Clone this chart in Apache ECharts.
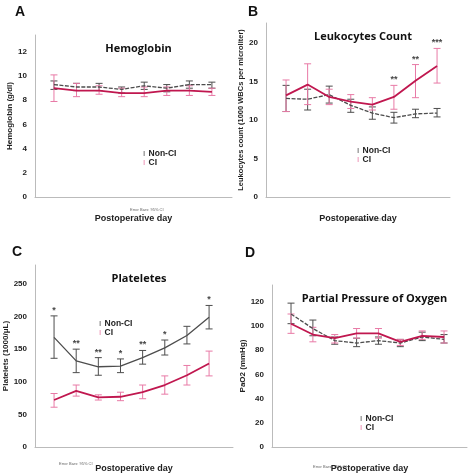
<!DOCTYPE html>
<html><head><meta charset="utf-8">
<script src="https://cdn.jsdelivr.net/npm/echarts@6/dist/echarts.min.js"></script>
<style>html,body{margin:0;background:#fff}#c{width:474px;height:474px}</style>
</head><body><div id="c"></div>
<script>
var days = [0, 1, 2, 3, 4, 5, 6, 7]
// Hemoglobin
var hbNon = [9.3, 9.1, 9.1, 8.9, 9.2, 9.0, 9.3, 9.3]
var hbNonLo = [8.9, 8.8, 8.8, 8.6, 8.9, 8.7, 9.0, 9.0]
var hbNonHi = [9.6, 9.4, 9.4, 9.1, 9.5, 9.3, 9.6, 9.5]
var hbCi = [9.0, 8.8, 8.8, 8.6, 8.6, 8.8, 8.8, 8.7]
var hbCiLo = [7.9, 8.3, 8.5, 8.3, 8.3, 8.4, 8.4, 8.4]
var hbCiHi = [10.1, 9.4, 9.2, 9.0, 9.1, 9.1, 9.2, 9.0]
// Leukocytes
var wbcNon = [12.8, 12.7, 13.3, 11.9, 10.9, 10.3, 10.8, 10.9]
var wbcNonLo = [11.1, 11.3, 12.2, 11.0, 10.1, 9.6, 10.3, 10.4]
var wbcNonHi = [14.5, 14.0, 14.4, 12.7, 11.7, 11.0, 11.4, 11.5]
var wbcCi = [13.2, 14.6, 13.0, 12.4, 12.0, 13.0, 15.1, 17.0]
var wbcCiLo = [11.1, 12.0, 12.0, 11.5, 11.3, 11.4, 12.9, 14.8]
var wbcCiHi = [15.2, 17.3, 14.0, 13.3, 12.9, 14.5, 17.2, 19.3]
var wbcStars = ['', '', '', '', '', '**', '**', '***']
// Platelets
var pltNon = [168, 132, 123, 124, 137, 152, 171, 199]
var pltNonLo = [136, 114, 110, 114, 127, 141, 158, 181]
var pltNonHi = [201, 150, 137, 135, 148, 164, 185, 217]
var pltCi = [72, 86, 76, 77, 84, 95, 110, 128]
var pltCiLo = [61, 78, 72, 71, 74, 81, 95, 109]
var pltCiHi = [82, 95, 80, 84, 95, 109, 125, 147]
var pltStars = ['*', '**', '**', '*', '**', '*', '', '*']
// PaO2
var poNon = [110, 98, 88, 86, 88, 86, 91, 89]
var poNonLo = [102, 92, 85, 83, 85, 83, 88, 86]
var poNonHi = [119, 105, 91, 90, 91, 89, 95, 93]
var poCi = [102, 93, 90, 94, 94, 87, 92, 91]
var poCiLo = [94, 87, 86, 90, 90, 84, 89, 86]
var poCiHi = [110, 99, 93, 98, 98, 89, 96, 96]

var grey = '#4d4d4d', red = '#c0174f', pink = '#e87aa6'
var panels = [
  {title: 'Hemoglobin', yname: 'Hemoglobin (g/dl)', grid: [35, 35, 197, 162], x: [-0.84, 7.89], y: [13.4, 2],
   non: hbNon, nonLo: hbNonLo, nonHi: hbNonHi, ci: hbCi, ciLo: hbCiLo, ciHi: hbCiHi, dash: true, stars: null},
  {title: 'Leukocytes Count', yname: 'Leukocytes count (1000 WBCs per microliter)', grid: [266, 23, 184, 174], x: [-0.93, 7.6], y: [22.6, 5],
   non: wbcNon, nonLo: wbcNonLo, nonHi: wbcNonHi, ci: wbcCi, ciLo: wbcCiLo, ciHi: wbcCiHi, dash: true, stars: wbcStars},
  {title: 'Plateletes', yname: 'Platelets (1000/μL)', grid: [35, 265, 198, 183], x: [-0.86, 8.08], y: [279, 50],
   non: pltNon, nonLo: pltNonLo, nonHi: pltNonHi, ci: pltCi, ciLo: pltCiLo, ciHi: pltCiHi, dash: false, stars: pltStars},
  {title: 'Partial Pressure of Oxygen', yname: 'PaO2 (mmHg)', grid: [272, 285, 195, 163], x: [-0.87, 8.05], y: [134, 20],
   non: poNon, nonLo: poNonLo, nonHi: poNonHi, ci: poCi, ciLo: poCiLo, ciHi: poCiHi, dash: true, stars: null}
]

function errBars(lo, hi, color, gi) {
  return {
    type: 'custom', xAxisIndex: gi, yAxisIndex: gi, z: 3,
    data: days.map(function (d, i) { return [d, lo[i], hi[i]] }),
    renderItem: function (params, api) {
      var a = api.coord([api.value(0), api.value(1)])
      var b = api.coord([api.value(0), api.value(2)])
      var w = 3.5
      var st = {stroke: color, lineWidth: 1}
      return {type: 'group', children: [
        {type: 'line', shape: {x1: a[0], y1: a[1], x2: b[0], y2: b[1]}, style: st},
        {type: 'line', shape: {x1: a[0] - w, y1: a[1], x2: a[0] + w, y2: a[1]}, style: st},
        {type: 'line', shape: {x1: b[0] - w, y1: b[1], x2: b[0] + w, y2: b[1]}, style: st}
      ]}
    }
  }
}

var grids = [], xAxes = [], yAxes = [], series = [], titles = []
panels.forEach(function (p, gi) {
  grids.push({left: p.grid[0], top: p.grid[1], width: p.grid[2], height: p.grid[3]})
  xAxes.push({type: 'value', gridIndex: gi, min: p.x[0], max: p.x[1], interval: 1,
    splitLine: {show: false}, axisTick: {show: false},
    axisLine: {onZero: false, lineStyle: {color: '#bbb'}},
    axisLabel: {fontSize: 8, fontWeight: 'bold', color: '#222', margin: 6, showMinLabel: false, showMaxLabel: false,
      formatter: function (v) { return (v >= 0 && v <= 7 && v % 1 === 0) ? v : '' }},
    name: 'Postoperative day', nameLocation: 'middle', nameGap: 17,
    nameTextStyle: {fontSize: 9, fontWeight: 'bold', color: '#222'}})
  yAxes.push({type: 'value', gridIndex: gi, min: 0, max: p.y[0], interval: p.y[1],
    splitLine: {show: false}, axisTick: {show: false},
    axisLine: {show: true, onZero: false, lineStyle: {color: '#bbb'}},
    axisLabel: {fontSize: 8, fontWeight: 'bold', color: '#222', margin: 8, showMaxLabel: false},
    name: p.yname, nameLocation: 'middle', nameGap: gi === 1 ? 18 : 20,
    nameTextStyle: {fontSize: gi === 1 ? 7.5 : 8, fontWeight: 'bold', color: '#222'}})
  titles.push({text: p.title, left: p.grid[0] + p.grid[2] / 2, top: p.grid[1] + 3, textAlign: 'center',
    textStyle: {fontSize: 11, fontWeight: 'bold', color: '#111', fontFamily: 'Open Sans'}})
  series.push(errBars(p.nonLo, p.nonHi, grey, gi))
  series.push(errBars(p.ciLo, p.ciHi, pink, gi))
  series.push({type: 'line', name: 'Non-CI', xAxisIndex: gi, yAxisIndex: gi, symbol: 'none', z: 4,
    data: days.map(function (d, i) { return [d, p.non[i]] }),
    lineStyle: {color: grey, width: 1.3, type: p.dash ? [4, 1.5] : 'solid'}})
  series.push({type: 'line', name: 'CI', xAxisIndex: gi, yAxisIndex: gi, symbol: 'none', z: 5,
    data: days.map(function (d, i) { return [d, p.ci[i]] }),
    lineStyle: {color: red, width: 1.8}})
  if (p.stars) {
    series.push({type: 'scatter', xAxisIndex: gi, yAxisIndex: gi, symbolSize: 0, z: 6,
      data: days.map(function (d, i) { return [d, Math.max(p.nonHi[i], p.ciHi[i]), p.stars[i]] }),
      label: {show: true, position: 'top', distance: 1, fontSize: 9, fontWeight: 'bold', color: '#111',
        formatter: function (q) { return q.value[2] }}})
  }
})

var legendPos = [[143, 148], [357, 145], [99, 318], [360, 413]]
var letters = [['A', 15, 5], ['B', 248, 5], ['C', 12, 245], ['D', 245, 246]]
var notes = [[130, 208], [347, 218], [59, 462], [313, 465]]
var graphic = []
legendPos.forEach(function (l) {
  graphic.push({type: 'text', left: l[0], top: l[1], style: {
    rich: {g: {fill: grey, fontSize: 8}, p: {fill: pink, fontSize: 8}, t: {fill: '#222', fontSize: 8.5, fontWeight: 'bold'}},
    text: '{g|I} {t|Non-CI}\n{p|I} {t|CI}', lineHeight: 9}})
})
letters.forEach(function (l) {
  graphic.push({type: 'text', left: l[1], top: l[2], style: {text: l[0], fontSize: 14, fontWeight: 'bold', fill: '#111'}})
})
notes.forEach(function (n) {
  graphic.push({type: 'text', left: n[0], top: n[1], style: {text: 'Error Bars: 95% CI', fontSize: 4, fill: '#666'}})
})

var chart = echarts.init(document.getElementById('c'))
chart.setOption({
  animation: false,
  textStyle: {fontFamily: 'Liberation Sans'},
  title: titles,
  grid: grids, xAxis: xAxes, yAxis: yAxes, series: series, graphic: graphic
})
</script></body></html>
